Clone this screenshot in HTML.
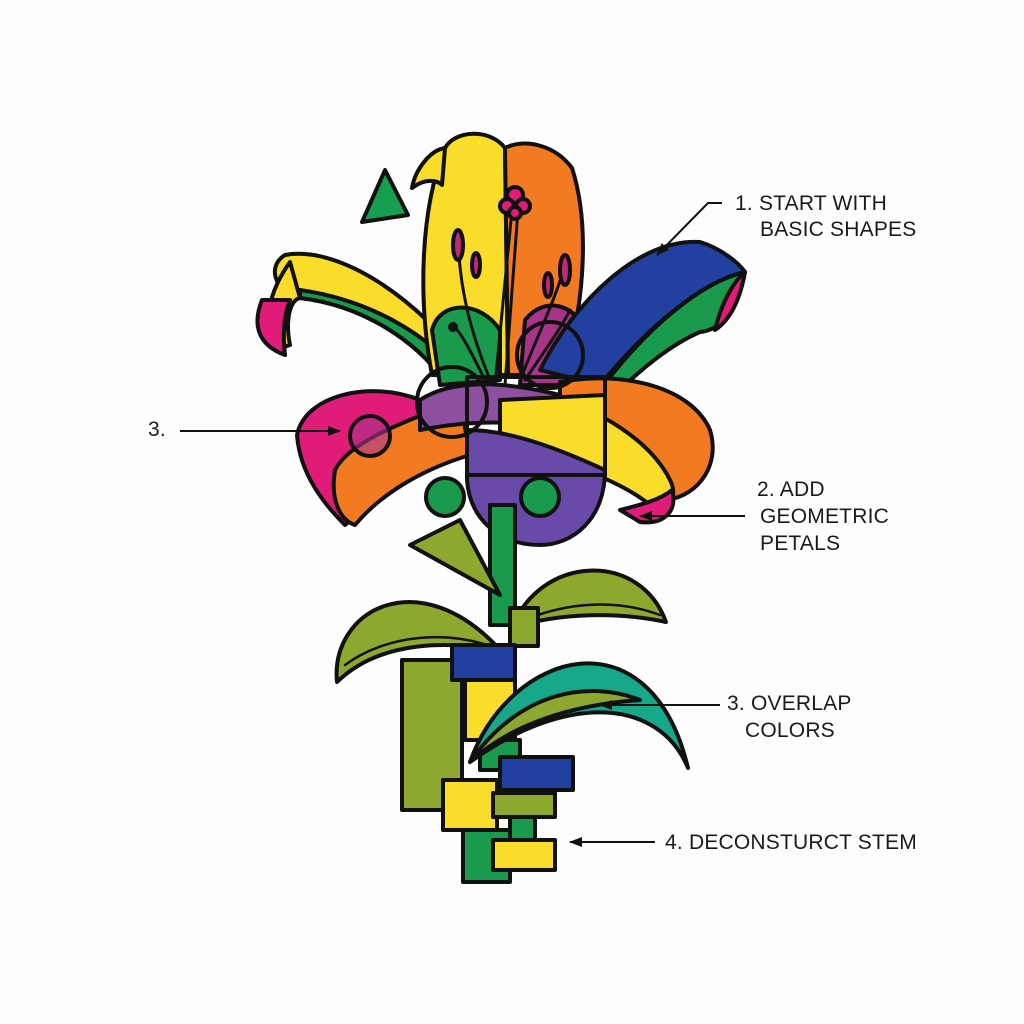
<!DOCTYPE html>
<html><head><meta charset="utf-8"><style>
html,body{margin:0;padding:0;background:#fdfdfd;}
svg{display:block}
text{font-family:"Liberation Sans",sans-serif;font-size:21px;fill:#1a1a1a;letter-spacing:0.2px}
</style></head><body>
<svg width="1024" height="1024" viewBox="0 0 1024 1024" xmlns="http://www.w3.org/2000/svg">
<defs><marker id="a" markerWidth="13" markerHeight="12" refX="12" refY="6" orient="auto" markerUnits="userSpaceOnUse"><path d="M0,1 L13,6 L0,11 Z" fill="#111"/></marker></defs>
<g stroke="#111" stroke-width="4" stroke-linejoin="round" stroke-linecap="round">
<path d="M362,222 L385,170 L408,215 Z" fill="#14a050"/>
<path d="M470,370 C420,300 340,245 285,255 C268,265 272,290 300,298 C360,305 420,340 450,390 Z" fill="#fadc2a"/>
<path d="M300,298 C360,305 420,340 450,390 L462,378 C430,335 370,300 300,290 Z" fill="#1a9a4c"/>
<path d="M290,262 C270,290 262,320 275,350 L290,345 C285,320 290,300 300,298 Z" fill="#fadc2a"/>
<path d="M262,300 C252,325 258,345 285,355 C283,335 283,318 290,300 Z" fill="#e01c78"/>
<path d="M432,375 C418,300 420,210 445,148 C455,130 490,128 505,148 L508,375 Z" fill="#fadc2a"/>
<path d="M445,148 C430,150 415,170 412,188 C425,178 437,180 442,185 Z" fill="#fadc2a"/>
<path d="M505,148 C525,138 555,145 572,168 C592,230 582,320 562,375 L508,375 Z" fill="#f27b22"/>
<path d="M432,330 C440,300 480,300 500,330 L500,380 L440,385 Z" fill="#1a9a4c"/>
<path d="M525,320 C545,295 575,305 585,330 L580,385 L520,385 Z" fill="#a8358a"/>
<path d="M540,370 C575,300 640,238 700,242 C720,248 738,262 745,272 C700,282 645,330 600,385 Z" fill="#2240a0"/>
<path d="M600,390 C645,330 700,282 745,272 C740,300 725,330 700,332 C670,345 640,370 618,392 Z" fill="#1a9a4c"/>
<path d="M745,272 C735,280 722,300 715,330 C730,320 740,300 745,272 Z" fill="#e01c78"/>
<path d="M420,400 C370,380 305,395 297,435 C300,475 325,505 345,525 C375,500 410,470 460,440 Z" fill="#e01c78"/>
<path d="M460,400 C410,420 350,440 335,470 C330,500 340,520 355,525 C380,495 420,470 470,455 Z" fill="#f27b22"/>
<path d="M560,382 C625,370 692,388 710,430 C722,470 692,500 662,500 C640,492 600,472 560,455 Z" fill="#f27b22"/>
<path d="M540,390 C600,410 650,440 670,480 C680,500 665,510 650,505 C620,480 570,465 540,455 Z" fill="#fadc2a"/>
<path d="M620,510 C640,505 660,500 672,490 C678,510 665,525 640,522 Z" fill="#e01c78"/>
<path d="M420,400 C450,380 500,380 560,395 L560,430 C520,420 470,420 420,430 Z" fill="#8d4fa0"/>
<path d="M500,400 L605,395 L605,470 L500,470 Z" fill="#fadc2a"/>
<path d="M467,430 C500,430 540,440 605,470 C605,520 572,545 540,545 C500,545 470,520 467,480 Z" fill="#6a4aa8"/>
<rect x="467" y="377" width="138" height="98" fill="none"/>
<circle cx="452" cy="402" r="35" fill="none"/>
<circle cx="550" cy="355" r="33" fill="none"/>
<circle cx="370" cy="436" r="20" fill="#a8358a" fill-opacity="0.6"/>
<circle cx="445" cy="497" r="19" fill="#1a9a4c"/>
<circle cx="540" cy="497" r="19" fill="#1a9a4c"/>
<path d="M495,385 L512,210 M505,385 L518,210 M490,380 C470,330 460,290 458,240 M520,380 C540,330 555,300 565,265 M485,380 C470,350 460,330 452,325 M525,380 C545,350 560,330 570,310" fill="none" stroke-width="3"/>
<ellipse cx="458" cy="245" rx="5" ry="15" fill="#c0287a"/>
<ellipse cx="565" cy="270" rx="5" ry="15" fill="#c0287a"/>
<ellipse cx="476" cy="265" rx="4" ry="12" fill="#c0287a"/>
<ellipse cx="548" cy="285" rx="4" ry="12" fill="#c0287a"/>
<circle cx="515" cy="195" r="8" fill="#e01c78"/><circle cx="507" cy="206" r="7" fill="#e01c78"/><circle cx="523" cy="206" r="7" fill="#e01c78"/><circle cx="515" cy="213" r="6" fill="#e01c78"/>
<rect x="490" y="505" width="25" height="120" fill="#1a9a4c"/>
<path d="M410,545 L460,520 L500,595 Z" fill="#8da82e"/>
<path d="M337,682 C330,610 420,560 502,652 C450,640 380,640 337,682 Z" fill="#8da82e"/>
<path d="M345,665 C385,635 450,628 500,650" fill="none" stroke-width="2.5"/>
<path d="M512,628 C540,555 640,550 666,622 C620,612 560,612 512,628 Z" fill="#8da82e"/>
<path d="M520,622 C570,600 620,600 660,615" fill="none" stroke-width="2.5"/>
<rect x="510" y="608" width="28" height="38" fill="#8da82e"/>
<rect x="402" y="660" width="60" height="150" fill="#8da82e"/>
<rect x="452" y="645" width="63" height="35" fill="#2240a0"/>
<rect x="465" y="680" width="50" height="60" fill="#fadc2a"/>
<rect x="480" y="740" width="40" height="30" fill="#1a9a4c"/>
<path d="M470,762 C510,650 650,610 688,768 C660,700 570,690 470,762 Z" fill="#16a888"/>
<path d="M470,762 C520,690 590,680 640,700 C570,705 510,725 470,762 Z" fill="#8da82e"/>
<rect x="500" y="757" width="73" height="33" fill="#2240a0"/>
<rect x="443" y="780" width="54" height="50" fill="#fadc2a"/>
<rect x="493" y="793" width="62" height="24" fill="#8da82e"/>
<rect x="510" y="817" width="25" height="25" fill="#1a9a4c"/>
<rect x="463" y="830" width="47" height="52" fill="#1a9a4c"/>
<rect x="493" y="840" width="62" height="30" fill="#fadc2a"/>
</g>
<g stroke="#111" stroke-width="2" fill="none">
<path d="M722,203 L708,203 L657,255" marker-end="url(#a)"/>
<path d="M180,431 L340,431" marker-end="url(#a)"/>
<path d="M745,516 L640,516" marker-end="url(#a)"/>
<path d="M720,705 L600,705" marker-end="url(#a)"/>
<path d="M655,842 L570,842" marker-end="url(#a)"/>
</g>
<circle cx="453" cy="327" r="5" fill="#111"/>
<text x="735" y="210">1. START WITH</text>
<text x="760" y="236">BASIC SHAPES</text>
<text x="148" y="436">3.</text>
<text x="757" y="496">2. ADD</text>
<text x="760" y="523">GEOMETRIC</text>
<text x="760" y="550">PETALS</text>
<text x="727" y="710">3. OVERLAP</text>
<text x="745" y="737">COLORS</text>
<text x="665" y="849">4. DECONSTURCT STEM</text>
</svg>
</body></html>
